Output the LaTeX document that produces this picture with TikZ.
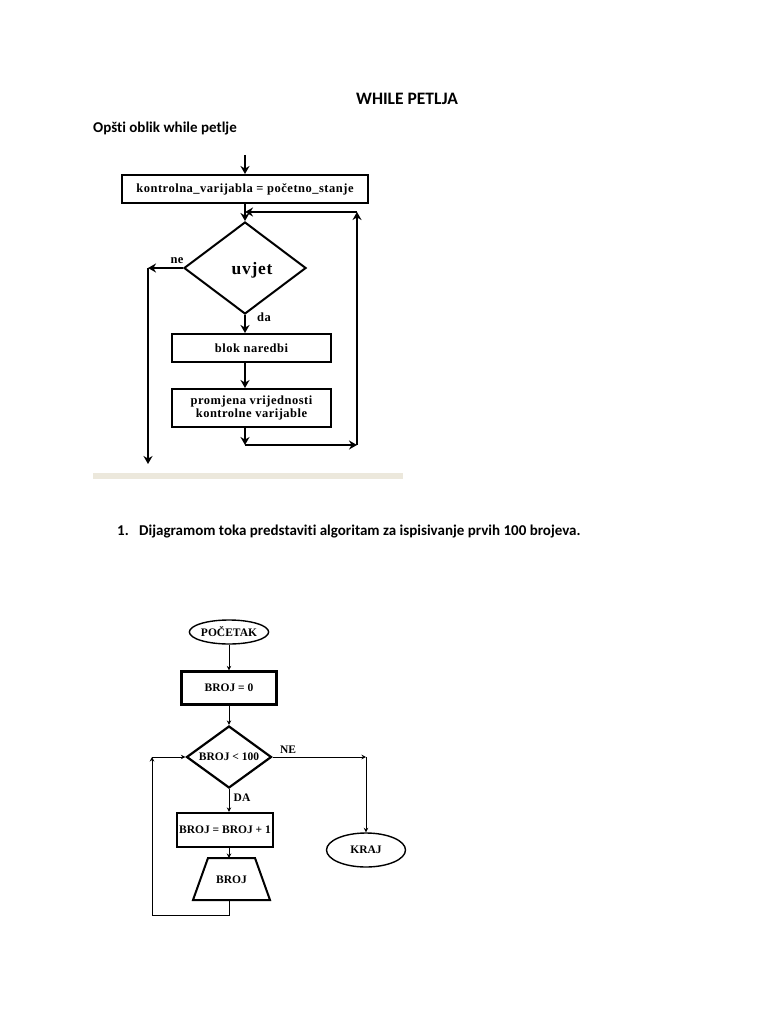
\documentclass[tikz,border=0pt]{standalone}
\usepackage{fontspec}
\setmainfont{Carlito}[Ligatures=NoCommon]
\newfontfamily\dfont[LetterSpace=4]{Liberation Serif}
\newfontfamily\efont{Liberation Serif}
\usetikzlibrary{shapes.geometric,arrows.meta}
\definecolor{sepcol}{HTML}{ECE8DC}
\tikzset{
  txt/.style={inner sep=0pt, font=\bfseries},
  dtxt/.style={font=\dfont\bfseries\fontsize{12.5}{13.5}\selectfont},
  etxt/.style={font=\efont\bfseries\fontsize{11.5}{13}\selectfont},
  box1/.style={draw, line width=2pt, inner sep=0pt, dtxt, align=center},
  dia1/.style={draw, diamond, line width=2pt, inner sep=0pt, minimum width=122pt, minimum height=92pt, aspect=1.33},
  a1/.style={line width=2pt, -{Stealth[length=8pt,width=9pt]}},
  box2/.style={draw, line width=2.2pt, inner sep=0pt, etxt},
  dia2/.style={draw, diamond, line width=2.2pt, inner sep=0pt, minimum width=85pt, minimum height=62pt, aspect=1.37, etxt},
  ell2/.style={draw, ellipse, line width=1.4pt, inner sep=0pt, etxt},
  trapline/.style={draw, line width=2pt, line join=miter},
  a2/.style={line width=0.8pt, -{Stealth[length=4.5pt,width=4.5pt]}},
  l2/.style={line width=0.8pt},
}
\begin{document}
\begin{tikzpicture}[x=1pt,y=-1pt]
\useasboundingbox (0,0) rectangle (768,1024);
% page texts
\node[txt, anchor=base, font=\bfseries\fontsize{17.5}{20}\selectfont] (title) at (407,104.5) {WHILE PETLJA};
\node[txt, anchor=base west, font=\bfseries\fontsize{15}{18}\selectfont] (sub) at (93,133) {Opšti oblik while petlje};
\node[txt, anchor=base west, font=\bfseries\fontsize{15}{18}\selectfont] (num) at (117,535) {1.};
\node[txt, anchor=base west, font=\bfseries\fontsize{15}{18}\selectfont] (task) at (139,535) {Dijagramom toka predstaviti algoritam za ispisivanje prvih 100 brojeva.};
% separator
\fill[sepcol] (93,473) rectangle (403,479);
% diagram 1
\coordinate (start) at (245,155);
\node[box1, minimum width=246pt, minimum height=28pt] (init) at (245,189) {kontrolna\_varijabla = početno\_stanje};
\node[dia1] (cond) at (245,268) {};
\node[dtxt, font=\dfont\bfseries\fontsize{17.5}{19}\selectfont] (uvjet) at (252,270) {uvjet};
\node[box1, minimum width=159pt, minimum height=28pt] (blok) at (251.5,348) {blok naredbi};
\node[box1, minimum width=159pt, minimum height=38pt] (prom) at (251.5,408) {promjena vrijednosti\\kontrolne varijable};
\node[dtxt] (ne) at (177,261) {ne};
\node[dtxt] (da) at (264,317) {da};
\draw[a1] (start) -- (init.north);
\draw[a1] (init.south) -- (cond.north);
\coordinate (L) at (148,268);
\coordinate (Lend) at (148,464);
\draw[a1] (cond.west) -- (L);
\draw[a1] (L) -- (Lend);
\draw[a1] (cond.south) -- (cond.south |- blok.north);
\draw[a1] (blok.south -| cond.south) -- (prom.north -| cond.south);
\coordinate (B) at (245,445);
\coordinate (BR) at (357,445);
\coordinate (TR) at (357,212);
\draw[a1] (prom.south -| cond.south) -- (B);
\draw[a1] (B) -- (BR);
\draw[a1] (BR) -- (TR);
\draw[a1] (TR) -- (TR -| cond.north);
% diagram 2
\node[ell2, minimum width=72pt, minimum height=24pt] (poc) at (229,632) {POČETAK};
\node[box2, minimum width=95pt, minimum height=33pt] (b0) at (229,688) {BROJ = 0};
\node[dia2] (d2) at (229,757) {BROJ < 100};
\node[box2, minimum width=96pt, minimum height=34pt] (inc) at (225,830) {BROJ = BROJ + 1};
\coordinate (trTL) at (208,858);
\coordinate (trTR) at (255,858);
\coordinate (trBR) at (270,900);
\coordinate (trBL) at (193,900);
\draw[trapline] (trTL) -- (trTR) -- (trBR) -- (trBL) -- cycle;
\node[etxt] (ispis) at (231.5,880) {BROJ};
\coordinate (trT) at (229,858);
\coordinate (trB) at (229,900);
\node[ell2, minimum width=79pt, minimum height=34pt] (kraj) at (366,850) {KRAJ};
\node[etxt] (NE) at (288,750) {NE};
\node[etxt] (DA) at (242,798) {DA};
\draw[a2] (poc.south) -- (b0.north);
\draw[a2] (b0.south) -- (d2.north);
\draw[a2] (d2.south) -- (d2.south |- inc.north);
\draw[a2] (inc.south -| d2.south) -- (trT);
\coordinate (c1) at (229,915);
\coordinate (c2) at (152,915);
\coordinate (c3) at (152,757);
\draw[l2] (trB) -- (c1) -- (c2);
\draw[a2] (c2) -- (c3);
\draw[a2] (c3) -- (d2.west);
\coordinate (c4) at (366,757);
\draw[a2] (d2.east) -- (c4);
\draw[a2] (c4) -- (kraj.north);
\end{tikzpicture}
\end{document}
